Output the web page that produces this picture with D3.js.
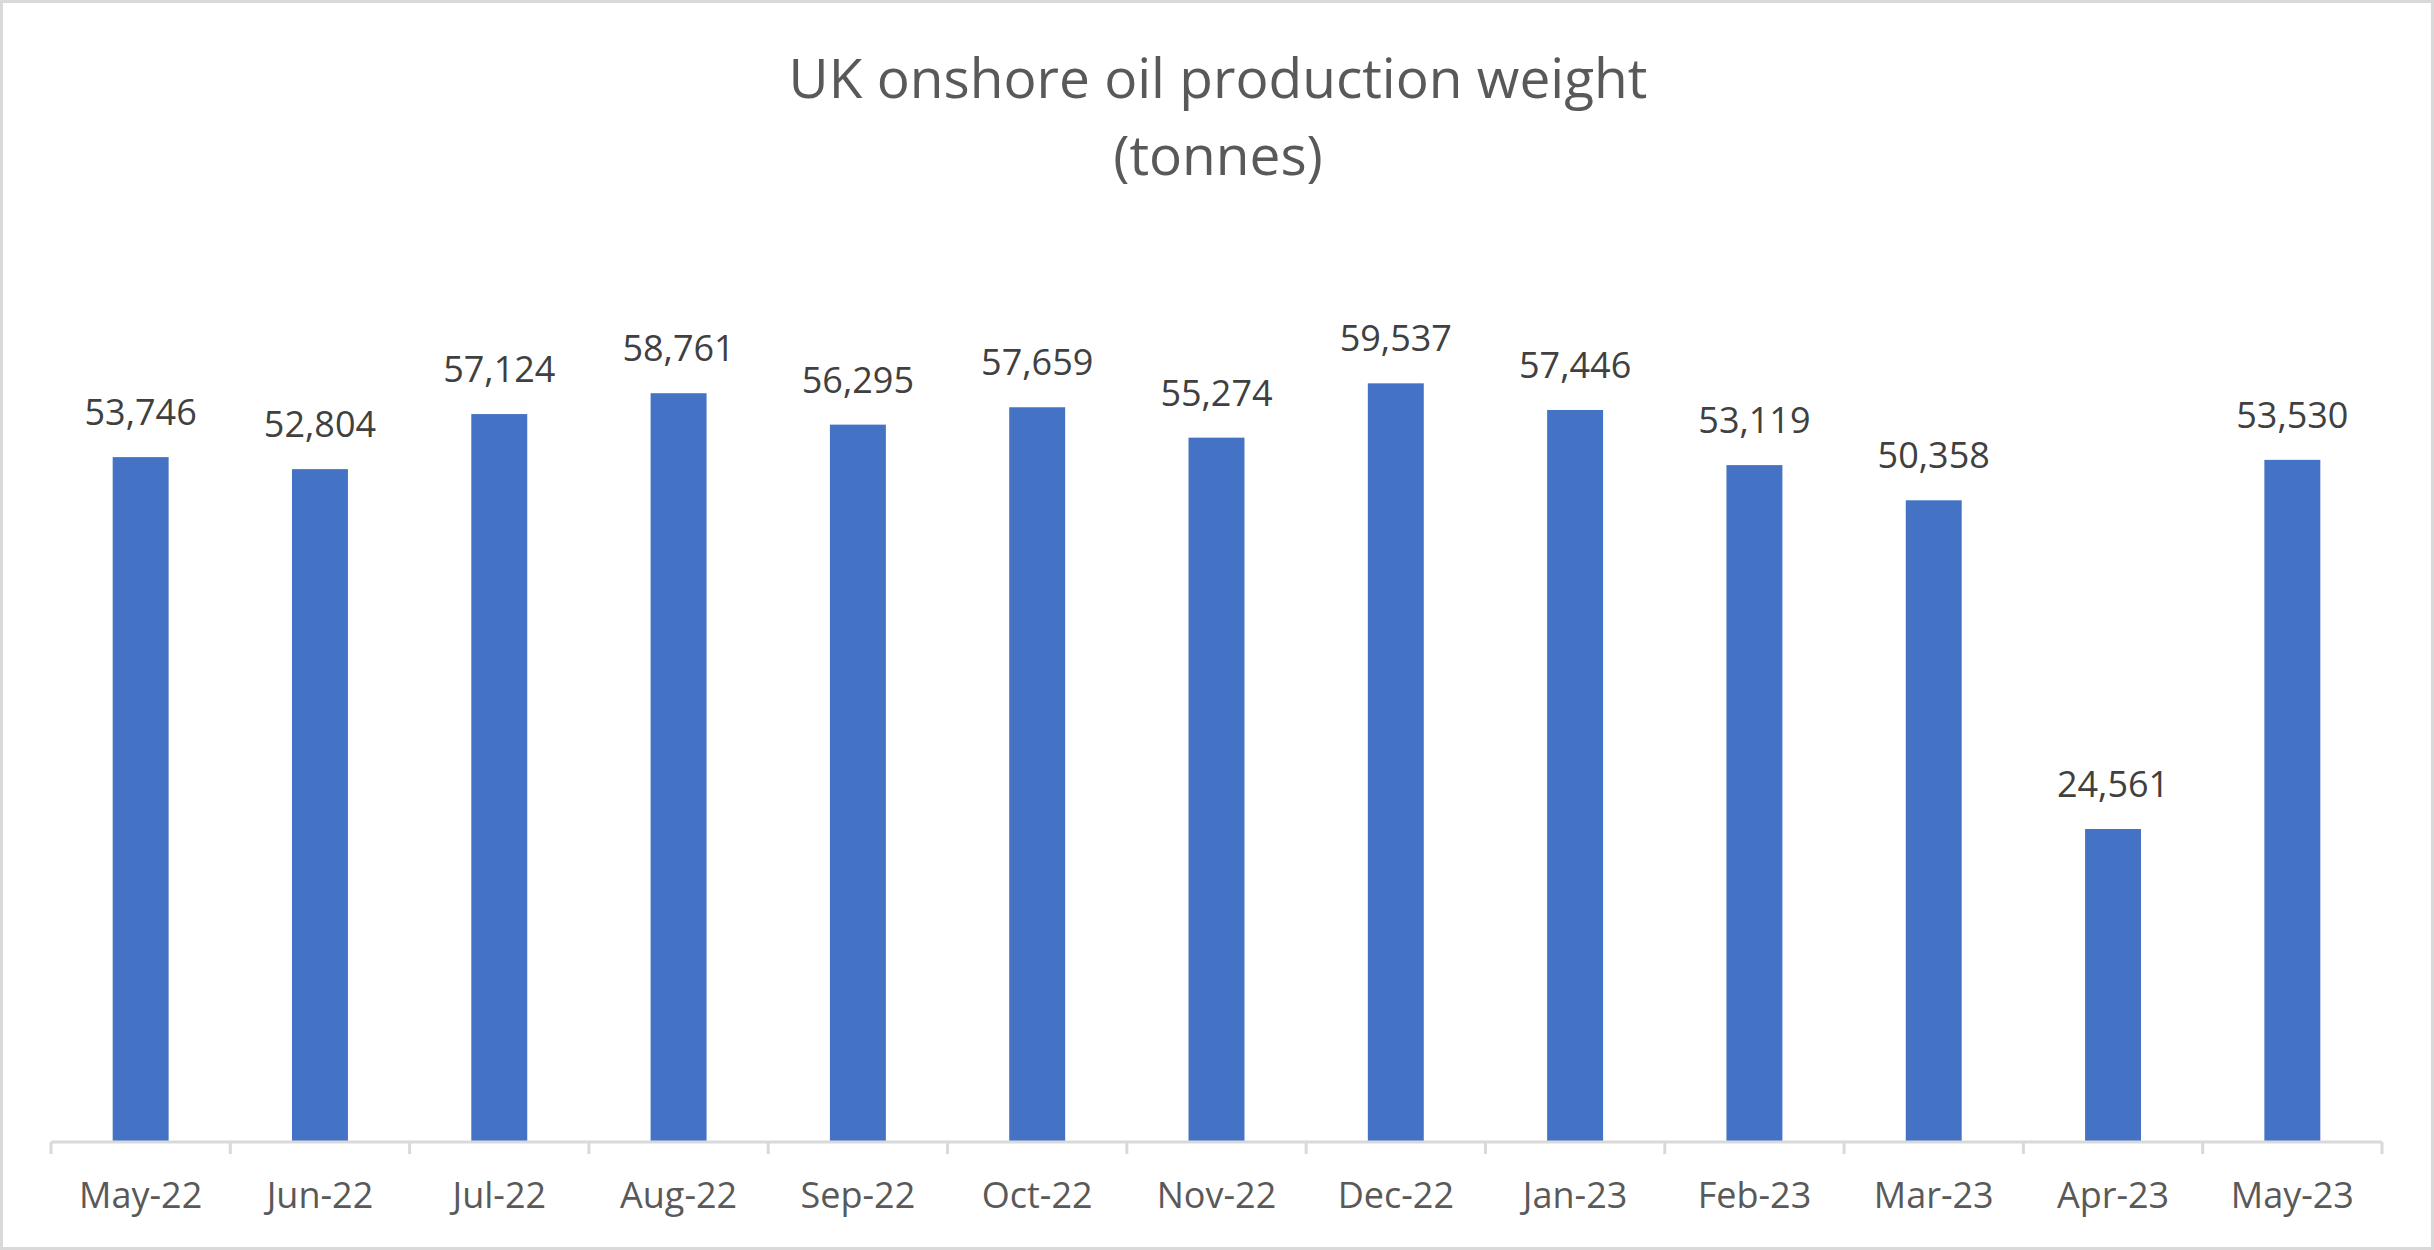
<!DOCTYPE html>
<html>
<head>
<meta charset="utf-8">
<script src="https://cdn.jsdelivr.net/npm/d3@7"></script>
<style>
  html, body { margin: 0; padding: 0; background: #fff; }
  svg { display: block; font-family: "Open Sans", sans-serif; }
</style>
</head>
<body>
<div id="chart"></div>
<script>
// UK onshore oil production, monthly, tonnes
const months = ['May-22', 'Jun-22', 'Jul-22', 'Aug-22', 'Sep-22', 'Oct-22', 'Nov-22',
  'Dec-22', 'Jan-23', 'Feb-23', 'Mar-23', 'Apr-23', 'May-23'];
const tonnes = [53746, 52804, 57124, 58761, 56295, 57659, 55274,
  59537, 57446, 53119, 50358, 24561, 53530];
const titleLines = ['UK onshore oil production weight', '(tonnes)'];
const yMax = 70000;

const W = 2434, H = 1250;
const M = { top: 250, right: 52, bottom: 108, left: 51 };

const svg = d3.select('#chart').append('svg')
  .attr('width', W).attr('height', H);

// chart frame
svg.append('rect')
  .attr('x', 1.5).attr('y', 1.5)
  .attr('width', W - 3).attr('height', H - 3)
  .attr('fill', '#fff').attr('stroke', '#d9d9d9').attr('stroke-width', 3);

// title
svg.append('text')
  .attr('text-anchor', 'middle')
  .attr('fill', '#595959')
  .attr('font-size', 55)
  .selectAll('tspan').data(titleLines).join('tspan')
  .attr('x', W / 2 + 1)
  .attr('y', (d, i) => 98 + i * 77)
  .text(d => d);

const x = d3.scaleBand().domain(months).range([M.left, W - M.right]).padding(0);
const y = d3.scaleLinear().domain([0, yMax]).range([H - M.bottom, M.top]);
const barW = x.bandwidth() * 0.312;
const y0 = y(0);

// bars
svg.append('g').selectAll('rect').data(months).join('rect')
  .attr('x', (d) => x(d) + (x.bandwidth() - barW) / 2)
  .attr('y', (d, i) => y(tonnes[i]))
  .attr('width', barW)
  .attr('height', (d, i) => y0 - y(tonnes[i]))
  .attr('fill', '#4472c4');

// data labels
svg.append('g').selectAll('text').data(months).join('text')
  .attr('x', d => x(d) + x.bandwidth() / 2)
  .attr('y', (d, i) => y(tonnes[i]) - 32)
  .attr('text-anchor', 'middle')
  .attr('font-size', 36)
  .attr('fill', '#404040')
  .text((d, i) => d3.format(',')(tonnes[i]));

// category axis: line + boundary ticks
const ax = svg.append('g');
ax.append('line')
  .attr('x1', M.left).attr('x2', W - M.right)
  .attr('y1', y0).attr('y2', y0)
  .attr('stroke', '#d9d9d9').attr('stroke-width', 3);
const bounds = months.map(m => x(m)).concat([W - M.right]);
ax.selectAll('line.tick').data(bounds).join('line')
  .attr('class', 'tick')
  .attr('x1', d => d).attr('x2', d => d)
  .attr('y1', y0).attr('y2', y0 + 12)
  .attr('stroke', '#d9d9d9').attr('stroke-width', 3);

const xAxis = svg.append('g')
  .attr('transform', `translate(0,${y0})`)
  .call(d3.axisBottom(x).tickSize(0).tickPadding(0));
xAxis.select('.domain').remove();
xAxis.selectAll('text')
  .attr('y', 66)
  .attr('dy', null)
  .attr('font-family', '"Open Sans", sans-serif')
  .attr('font-size', 36)
  .attr('fill', '#595959');
</script>
</body>
</html>
